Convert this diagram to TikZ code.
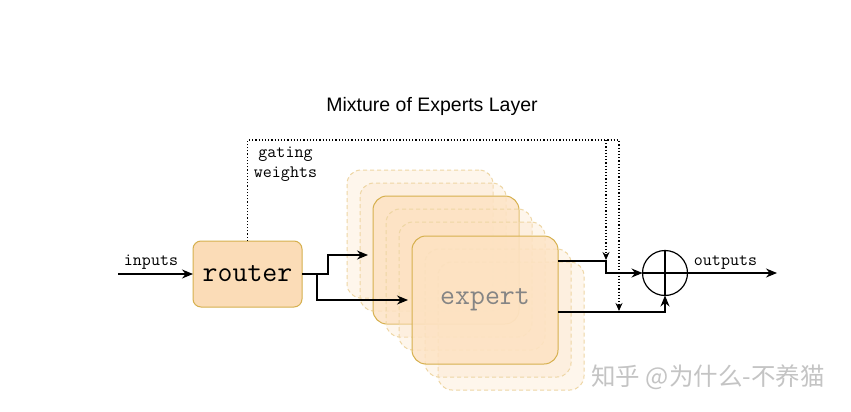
\documentclass[tikz,border=0pt]{standalone}
\usepackage{fontspec}
\setmainfont{Liberation Sans}
\newfontfamily\cjk{Noto Sans CJK SC}
\usetikzlibrary{arrows.meta}
\definecolor{boxline}{HTML}{D6B04E}
\definecolor{routerfill}{HTML}{FBDCB7}
\definecolor{expfill}{HTML}{FDE2C2}
\definecolor{dashline}{HTML}{EED6A4}
\definecolor{wmgray}{HTML}{C4C4C4}
\definecolor{exptext}{HTML}{858585}
\tikzset{
  routerbox/.style={draw=boxline, fill=routerfill, rounded corners=8pt, line width=1pt,
    minimum width=109pt, minimum height=66pt, inner sep=0pt, outer sep=0pt,
    font=\ttfamily\fontsize{29}{29}\selectfont},
  expsolid/.style={draw=boxline, fill=expfill, fill opacity=0.8, text opacity=1,
    rounded corners=14pt, line width=1pt, minimum width=146pt, minimum height=128pt,
    anchor=north west, inner sep=0pt, outer sep=0pt},
  expdash/.style={draw=dashline, dash pattern=on 4pt off 3pt, fill=expfill, fill opacity=0.3,
    rounded corners=14pt, line width=1pt, minimum width=146pt, minimum height=128pt,
    anchor=north west, inner sep=0pt, outer sep=0pt},
  conn/.style={line width=1.2pt, -{Stealth[length=11pt,width=9pt]}},
  dotconn/.style={line width=1.2pt, dotted, -{Stealth[length=8pt,width=7pt]}},
  lbl/.style={font=\ttfamily\fontsize{17.5}{19.5}\selectfont, inner sep=0pt},
  sumnode/.style={draw, circle, line width=1.2pt, minimum size=45pt, inner sep=0pt, outer sep=0pt}
}
\begin{document}
\begin{tikzpicture}[x=1pt,y=-1pt]
\useasboundingbox[fill=white] (0,0) rectangle (851,412);

% title
\node[font=\fontsize{19.5}{22}\selectfont, inner sep=0pt] (title) at (432,106) {Mixture of Experts Layer};

% router
\node[routerbox] (router) at (247.5,274) {router};

% expert stack
\node[expdash]  (e0) at (347,170) {};
\node[expdash]  (e1) at (360,183) {};
\node[expsolid] (e2) at (373,196) {};
\node[expdash]  (e3) at (386,209) {};
\node[expdash]  (e4) at (399,222) {};
\node[expdash]  (e7) at (438,262) {};
\node[expdash]  (e6) at (425,249) {};
\node[expsolid, font=\ttfamily\fontsize{29}{29}\selectfont, text=exptext] (e5) at (412,236) {expert};

% sum node
\node[sumnode] (sum) at (665,273) {};
\draw[line width=1.2pt] (sum.north) -- (sum.south) (sum.west) -- (sum.east);

% input
\coordinate (in) at (118,274);
\draw[conn] (in) -- (router.west);
\node[lbl] (inlbl) at (151,262) {inputs};

% router to experts
\coordinate (j1) at (328,274);
\coordinate (j2) at (317,274);
\draw[conn, shorten >=5pt] (router.east) -- (j1) |- ([yshift=5pt]e2.west);
\draw[conn, shorten >=4pt] (j2) |- (e5.west);

% expert outputs
\coordinate (o1) at (558,261);
\coordinate (o1b) at (606,261);
\coordinate (o1c) at (606,273);
\draw[conn] (o1) -- (o1b) -- (o1c) -- (sum.west);
\coordinate (o2) at (558,312);
\draw[conn] (o2) -| (sum.south);

% output
\coordinate (out) at (777,273);
\draw[conn] (sum.east) -- (out);
\node[lbl] (outlbl) at (725.5,263) {outputs};

% gating weights (dotted)
\coordinate (g1) at (247.5,140);
\coordinate (g2) at (619,140);
\coordinate (g3) at (606,140);
\coordinate (g2e) at (619,311);
\coordinate (g3e) at (606,260);
\draw[dotconn] (router.north) -- (g1) -- (g2) -- (g2e);
\draw[dotconn] (g3) -- (g3e);
\node[lbl, align=center] (gw) at (285.5,164) {gating\\weights};

% watermark
\node[font=\cjk\fontsize{24.5}{26}\selectfont, text=wmgray, inner sep=0pt] (wm) at (708,377) {知乎 @为什么-不养猫};
\end{tikzpicture}
\end{document}
